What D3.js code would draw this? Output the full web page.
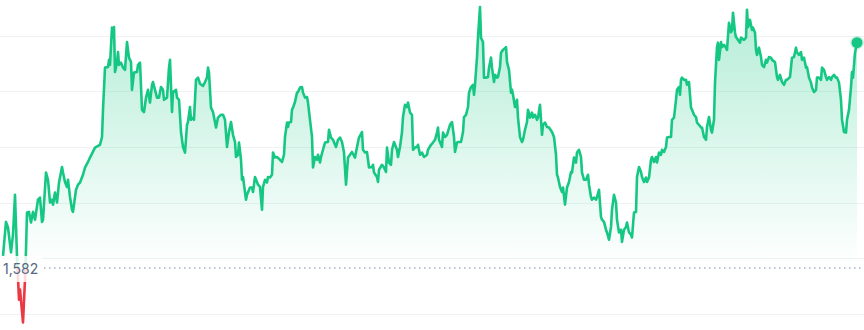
<!DOCTYPE html>
<html lang="en">
<head>
<meta charset="UTF-8">
<title>Price chart</title>
<script src="https://d3js.org/d3.v7.min.js"></script>
<style>
  body { margin: 0; background: #fff; }
  svg { display: block; font-family: Inter, "Noto Sans", sans-serif; }
</style>
</head>
<body>
<div id="chart"></div>
<script>
// time step (hours from start) and price
const hours = [
  0,3,5,8,10,12,14,16,17,20,22,23,24,26,28,30,32,35,37,39,40,43,45,47,49,50,52,54,56,59,
  60,62,64,65,67,69,70,73,75,77,80,82,85,87,92,95,97,99,100,102,105,106,107,109,110,111,112,114,115,116,
  118,120,122,124,126,128,129,131,134,135,137,139,141,143,145,147,149,150,152,154,156,158,160,161,164,166,167,169,170,173,
  174,176,178,180,182,184,185,187,188,190,191,193,195,197,200,202,204,205,206,208,210,213,215,218,220,222,224,226,228,230,
  232,233,235,236,238,239,240,243,244,247,249,250,252,254,255,257,259,260,262,264,265,267,269,270,272,274,277,279,281,282,
  284,285,286,288,289,290,292,294,295,297,299,300,302,304,305,307,309,310,312,314,315,317,318,320,322,325,326,328,330,333,
  335,337,339,341,343,345,349,352,354,356,359,360,362,364,366,369,370,371,374,375,376,379,381,383,384,386,388,389,391,394,
  395,397,399,400,402,404,405,407,409,410,412,414,415,417,419,421,424,425,428,430,432,434,435,436,439,440,442,444,447,449,
  451,452,454,455,458,460,461,463,465,466,468,470,471,472,474,475,477,478,480,481,483,485,486,488,489,491,492,494,495,497,
  498,500,503,504,506,508,509,510,512,514,515,517,519,520,522,524,525,527,529,530,532,534,535,537,539,540,542,544,546,549,
  551,553,554,555,557,559,560,562,564,566,568,569,571,573,574,576,578,579,581,583,585,586,588,589,591,593,594,596,598,599,
  601,603,604,606,608,609,611,613,614,616,618,619,621,623,624,626,628,629,631,633,634,636,638,639,641,643,644,646,648,649,
  651,653,654,656,658,659,661,663,664,666,668,669,671,673,674,676,677,678,679,681,683,684,686,688,689,691,693,694,696,698,
  699,701,703,704,706,708,709,711,712,714,715,716,718,719,721,723,724,726,728,729,730,732,733,735,737,738,741,743,744,745,
  747,749,750,752,753,754,756,758,759,761,763,764,766,768,769,772,774,775,777,779,781,783,784,787,789,791,793,794,796,798,
  799,801,803,804,806,808,809,811,813,814,816,818,819,821,823,824,826,828,829,831,833,834,836,838,839,841,843,844,846,848,
  849,850,852,854
];
const prices = [
  1604,1665,1655,1610,1642,1714,1602,1525,1543,1484,1561,1615,1682,1683,1664,1683,1669,1705,1709,1665,1669,1754,1741,1700,1705,1696,1718,1700,1736,1764,
  1754,1737,1728,1741,1710,1687,1683,1723,1732,1736,1750,1763,1773,1781,1799,1802,1804,1818,1867,1943,1944,1957,1948,2015,1997,2016,1935,1952,1971,1948,
  1952,1943,1939,1989,1961,1953,1903,1934,1935,1948,1952,1867,1863,1889,1903,1880,1912,1917,1903,1889,1889,1908,1903,1885,1889,1943,1957,1863,1899,1903,
  1889,1885,1827,1800,1790,1840,1845,1872,1849,1853,1849,1921,1925,1914,1910,1917,1925,1943,1934,1871,1863,1835,1853,1858,1858,1849,1800,1827,1845,1822,
  1809,1782,1786,1808,1777,1741,1746,1705,1714,1727,1727,1719,1746,1737,1732,1728,1687,1728,1741,1736,1746,1745,1750,1790,1781,1782,1777,1773,1786,1818,
  1844,1836,1844,1845,1867,1871,1881,1898,1899,1907,1908,1898,1889,1890,1880,1849,1818,1763,1782,1777,1786,1772,1782,1795,1808,1809,1831,1817,1813,1800,
  1813,1817,1809,1790,1732,1781,1791,1781,1800,1817,1827,1795,1790,1791,1763,1764,1768,1754,1746,1737,1759,1768,1763,1755,1799,1772,1768,1795,1809,1795,
  1782,1800,1827,1854,1876,1872,1880,1862,1858,1795,1799,1800,1804,1786,1790,1782,1786,1795,1804,1808,1813,1826,1835,1813,1800,1826,1818,1822,1840,1845,
  1818,1791,1808,1809,1809,1827,1854,1858,1872,1898,1908,1912,1894,1912,1962,1998,2052,1997,1989,1925,1925,1926,1943,1961,1943,1917,1930,1925,1926,1944,
  1970,1975,1980,1953,1939,1898,1903,1894,1872,1885,1853,1818,1809,1813,1831,1845,1867,1853,1862,1853,1858,1849,1853,1876,1822,1840,1844,1836,1835,1827,
  1818,1786,1750,1745,1728,1719,1727,1696,1727,1737,1755,1754,1781,1772,1790,1795,1782,1754,1741,1741,1750,1732,1710,1705,1709,1705,1710,1723,1674,1669,
  1665,1651,1646,1633,1656,1687,1714,1700,1669,1646,1651,1629,1651,1656,1664,1646,1642,1637,1682,1683,1746,1764,1755,1746,1737,1745,1737,1745,1777,1782,
  1773,1782,1772,1790,1786,1795,1791,1800,1817,1818,1818,1849,1853,1885,1903,1908,1894,1921,1925,1921,1921,1912,1917,1871,1867,1858,1854,1844,1840,1835,
  1835,1818,1813,1836,1854,1831,1826,1849,1916,1980,1988,1957,1989,1980,1984,1979,1975,2024,2007,2011,2042,2006,1998,1993,1988,1997,1993,1997,2047,2016,
  2029,2011,2015,2006,1975,1966,1979,1962,1948,1944,1957,1952,1962,1961,1957,1953,1926,1921,1930,1917,1912,1921,1921,1926,1961,1962,1979,1970,1966,1971,
  1957,1961,1943,1944,1925,1916,1907,1899,1903,1925,1925,1921,1943,1939,1926,1921,1926,1921,1926,1930,1925,1925,1916,1885,1849,1827,1826,1849,1867,1908,
  1935,1925,1970,1988
];
const refPrice = 1582;
const gridValues = [1500, 1600, 1700, 1800, 1900, 2000];
const refLabel = "1,582";

const W = 864, H = 330;
const up = "#16c784", down = "#ea3943";

const data = hours.map((h, i) => ({ h: h, p: prices[i] }));

const x = d3.scaleLinear().domain([0, 854]).range([3, 857]);
const y = d3.scaleLinear().domain([1500, 2000]).range([313.5, 36]);
const yRef = y(refPrice);

const svg = d3.select("#chart").append("svg")
  .attr("width", W).attr("height", H);

const defs = svg.append("defs");
const off = yRef / H;

// stroke gradient: green above reference, red below
const lg = defs.append("linearGradient").attr("id", "lineGrad")
  .attr("gradientUnits", "userSpaceOnUse")
  .attr("x1", 0).attr("x2", 0).attr("y1", 0).attr("y2", H);
lg.append("stop").attr("offset", off).attr("stop-color", up);
lg.append("stop").attr("offset", off).attr("stop-color", down);

// area gradient
const ag = defs.append("linearGradient").attr("id", "areaGrad")
  .attr("gradientUnits", "userSpaceOnUse")
  .attr("x1", 0).attr("x2", 0).attr("y1", 0).attr("y2", H);
ag.append("stop").attr("offset", 0.02).attr("stop-color", up).attr("stop-opacity", 0.32);
ag.append("stop").attr("offset", off).attr("stop-color", up).attr("stop-opacity", 0.0);
ag.append("stop").attr("offset", off).attr("stop-color", down).attr("stop-opacity", 0.0);
ag.append("stop").attr("offset", 1).attr("stop-color", down).attr("stop-opacity", 0.2);

// grid lines
svg.append("g").selectAll("line")
  .data(gridValues)
  .join("line")
  .attr("x1", 0).attr("x2", W)
  .attr("y1", d => Math.round(y(d)) + 0.5)
  .attr("y2", d => Math.round(y(d)) + 0.5)
  .attr("stroke", "#eff2f5")
  .attr("stroke-width", 1);

// area to reference line
svg.append("path")
  .datum(data)
  .attr("fill", "url(#areaGrad)")
  .attr("d", d3.area()
    .x(d => x(d.h))
    .y0(yRef)
    .y1(d => y(d.p)));

// dotted reference line
svg.append("line")
  .attr("x1", 44).attr("x2", W)
  .attr("y1", yRef).attr("y2", yRef)
  .attr("stroke", "#a6b0c3")
  .attr("stroke-width", 1.5)
  .attr("stroke-dasharray", "1.5,3.5");

// price line
svg.append("path")
  .datum(data)
  .attr("fill", "none")
  .attr("stroke", "url(#lineGrad)")
  .attr("stroke-width", 2.6)
  .attr("stroke-linejoin", "round")
  .attr("d", d3.line()
    .x(d => x(d.h))
    .y(d => y(d.p)));

// label box over the line start
svg.append("rect")
  .attr("x", 0).attr("y", yRef - 12)
  .attr("width", 42).attr("height", 26)
  .attr("fill", "#fff").attr("opacity", 0.82);

svg.append("text")
  .attr("x", 3).attr("y", yRef + 6)
  .attr("font-size", 14)
  .attr("fill", "#58667e")
  .text(refLabel);

// end point
const last = data[data.length - 1];
svg.append("circle")
  .attr("cx", x(last.h)).attr("cy", y(last.p))
  .attr("r", 7).attr("fill", up).attr("opacity", 0.2);
svg.append("circle")
  .attr("cx", x(last.h)).attr("cy", y(last.p))
  .attr("r", 5.5).attr("fill", up);
</script>
</body>
</html>
